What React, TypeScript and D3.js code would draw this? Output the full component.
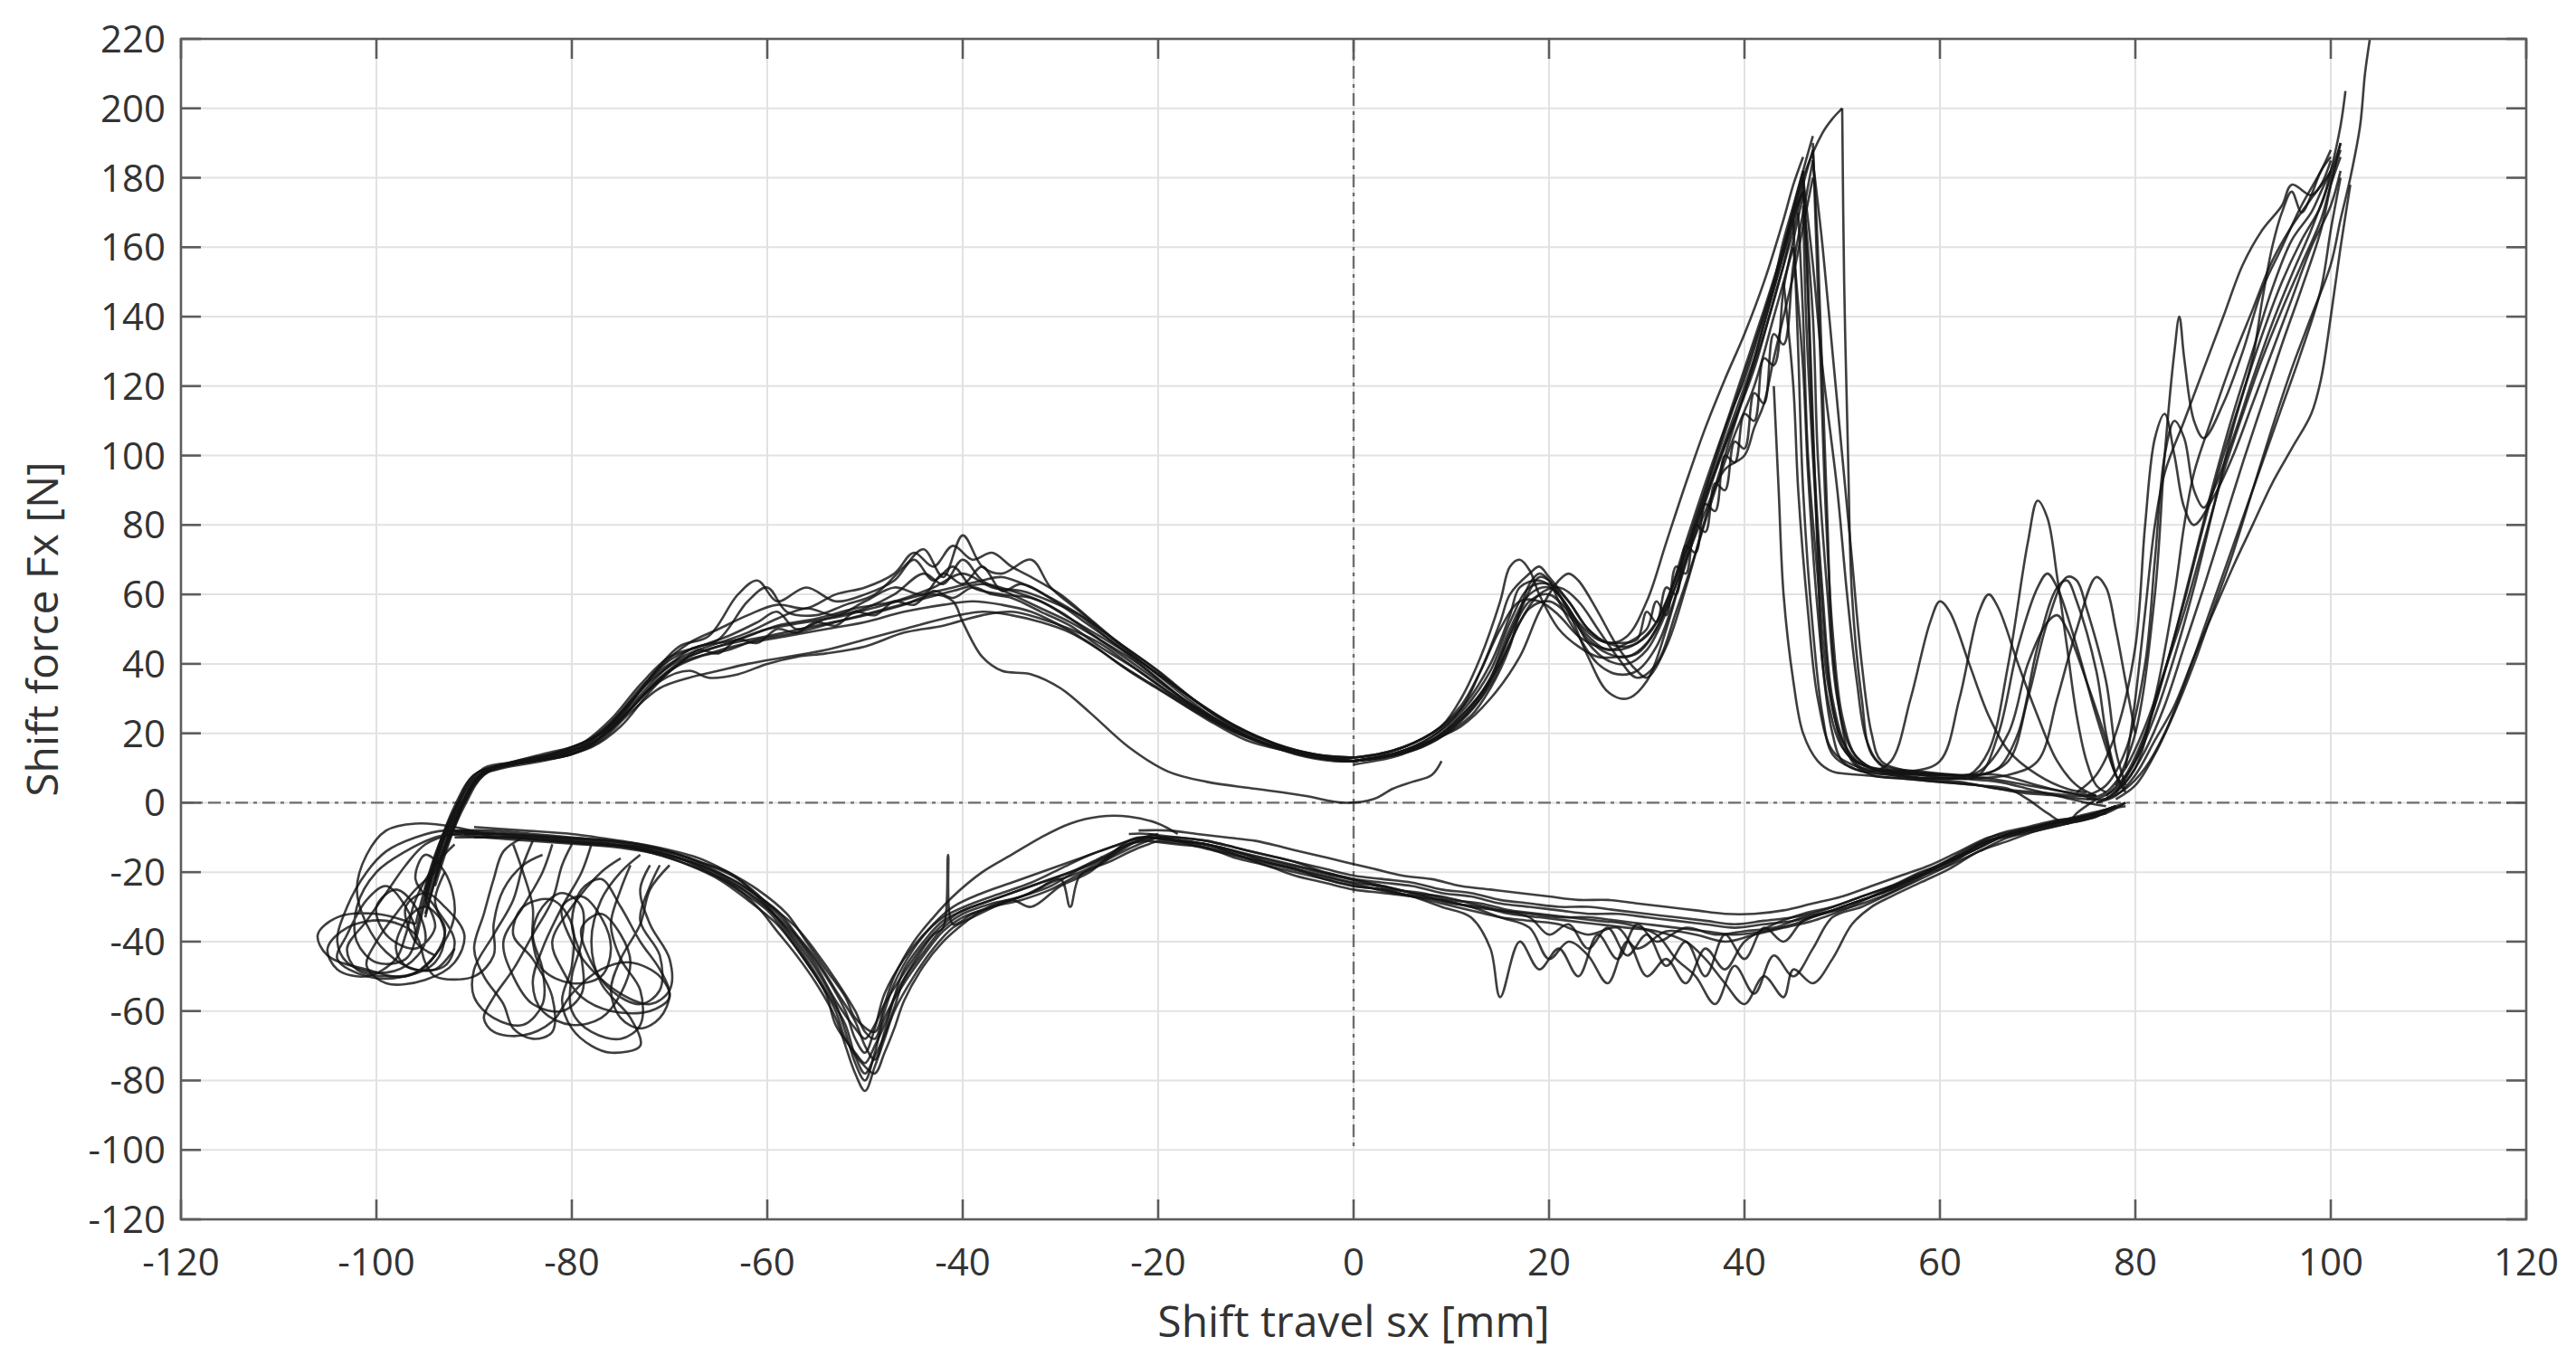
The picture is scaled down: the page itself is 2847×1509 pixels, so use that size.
import * as d3 from 'd3';
import { useEffect, useRef } from 'react';

type Pt = [number, number];

const xTickValues = [-120, -100, -80, -60, -40, -20, 0, 20, 40, 60, 80, 100, 120];
const yTickValues = [-120, -100, -80, -60, -40, -20, 0, 20, 40, 60, 80, 100, 120, 140, 160, 180, 200, 220];

const xLabel = 'Shift travel sx [mm]';
const yLabel = 'Shift force Fx [N]';

// forward stroke: left gate -> neutral (upper hump)
const riseA: Pt[] = [[-95, -30], [-93, -12], [-91, 0], [-89, 9], [-86, 11], [-82, 13], [-78, 16], [-75, 22], [-72, 32], [-69, 40], [-66, 43], [-62, 46], [-58, 48], [-54, 50], [-50, 52], [-46, 55], [-42, 57], [-39, 58], [-36, 57], [-33, 55], [-30, 51], [-27, 46], [-24, 40], [-20, 33], [-16, 26], [-12, 20], [-8, 16], [-4, 13], [0, 12]];
const riseB: Pt[] = [[-96, -35], [-94, -15], [-92, -2], [-90, 8], [-87, 11], [-83, 13], [-79, 17], [-76, 24], [-73, 34], [-70, 42], [-67, 45], [-64, 48], [-61, 52], [-59, 55], [-57, 50], [-54, 53], [-50, 56], [-47, 60], [-44, 66], [-42, 63], [-40, 70], [-38, 64], [-35, 60], [-32, 56], [-29, 52], [-26, 47], [-22, 40], [-18, 31], [-14, 24], [-10, 18], [-6, 15], [-2, 13], [0, 13]];
const riseC: Pt[] = [[-95, -25], [-93, -8], [-91, 3], [-89, 10], [-85, 12], [-81, 15], [-77, 20], [-74, 28], [-71, 37], [-68, 44], [-65, 47], [-62, 58], [-60, 62], [-58, 55], [-55, 54], [-52, 57], [-49, 60], [-46, 68], [-44, 73], [-42, 65], [-40, 77], [-38, 68], [-36, 66], [-33, 70], [-31, 62], [-28, 55], [-25, 48], [-21, 39], [-17, 30], [-13, 22], [-9, 17], [-5, 14], [-1, 12], [0, 12]];
const riseD: Pt[] = [[-94, -20], [-92, -5], [-90, 6], [-88, 10], [-84, 12], [-80, 14], [-77, 18], [-74, 26], [-71, 33], [-68, 36], [-65, 38], [-62, 40], [-58, 42], [-54, 44], [-50, 47], [-46, 50], [-42, 53], [-38, 55], [-35, 54], [-32, 52], [-29, 49], [-26, 44], [-23, 38], [-19, 31], [-15, 24], [-11, 18], [-7, 15], [-3, 13], [0, 13]];
const riseE: Pt[] = [[-95, -28], [-93, -10], [-91, 1], [-89, 9], [-85, 12], [-81, 14], [-78, 18], [-75, 26], [-72, 35], [-69, 41], [-65, 45], [-60, 48], [-55, 51], [-50, 54], [-46, 57], [-43, 60], [-41, 58], [-40, 52], [-38, 42], [-36, 38], [-33, 37], [-30, 33], [-27, 26], [-23, 16], [-19, 9], [-15, 6], [-10, 4], [-5, 2], [-1, 0], [2, 1], [4, 4], [6, 6], [8, 8], [9, 12]];
const riseF: Pt[] = [[-96, -40], [-94, -18], [-92, -3], [-90, 7], [-87, 10], [-83, 12], [-79, 15], [-76, 21], [-73, 30], [-70, 38], [-67, 42], [-64, 44], [-61, 47], [-57, 49], [-53, 52], [-49, 55], [-45, 58], [-41, 61], [-38, 63], [-35, 61], [-32, 58], [-29, 53], [-26, 48], [-22, 41], [-18, 33], [-14, 25], [-10, 19], [-6, 15], [-2, 13], [0, 12]];
const riseG: Pt[] = [[-94, -22], [-92, -6], [-90, 5], [-88, 10], [-84, 12], [-80, 14], [-77, 19], [-74, 27], [-71, 35], [-68, 38], [-66, 36], [-63, 37], [-60, 40], [-57, 42], [-54, 43], [-50, 45], [-46, 49], [-42, 51], [-38, 54], [-35, 55], [-32, 53], [-29, 50], [-26, 46], [-23, 40], [-19, 32], [-15, 25], [-11, 19], [-7, 15], [-3, 13], [0, 12]];
const riseH: Pt[] = [[-95, -32], [-93, -14], [-91, -1], [-89, 8], [-86, 11], [-82, 13], [-78, 17], [-75, 25], [-72, 36], [-69, 45], [-66, 48], [-63, 60], [-61, 64], [-59, 58], [-56, 62], [-53, 58], [-50, 60], [-47, 64], [-45, 70], [-43, 64], [-41, 68], [-39, 62], [-36, 60], [-33, 59], [-30, 55], [-27, 49], [-24, 43], [-20, 35], [-16, 27], [-12, 21], [-8, 16], [-4, 13], [0, 12]];
const riseI: Pt[] = [[-95, -26], [-93, -9], [-91, 2], [-89, 9], [-85, 12], [-81, 14], [-77, 19], [-74, 27], [-71, 36], [-68, 42], [-64, 46], [-60, 50], [-56, 52], [-52, 54], [-48, 57], [-44, 60], [-41, 62], [-38, 64], [-36, 65], [-33, 62], [-30, 57], [-27, 51], [-24, 45], [-20, 37], [-16, 29], [-12, 22], [-8, 17], [-4, 14], [0, 13]];
const riseJ: Pt[] = [[-96, -38], [-94, -16], [-92, -1], [-90, 8], [-87, 11], [-83, 14], [-79, 17], [-76, 23], [-73, 33], [-70, 41], [-67, 45], [-63, 47], [-59, 51], [-55, 53], [-51, 56], [-47, 58], [-43, 62], [-40, 66], [-37, 62], [-34, 61], [-31, 58], [-28, 54], [-25, 48], [-21, 40], [-17, 31], [-13, 23], [-9, 18], [-5, 14], [-1, 12], [0, 12]];
const riseK: Pt[] = [[-95, -33], [-93, -13], [-91, 0], [-89, 9], [-86, 11], [-82, 14], [-78, 17], [-75, 24], [-72, 33], [-69, 40], [-67, 44], [-65, 43], [-63, 47], [-61, 46], [-59, 50], [-57, 49], [-55, 52], [-53, 51], [-51, 55], [-49, 54], [-47, 58], [-45, 57], [-43, 61], [-41, 59], [-39, 62], [-37, 60], [-35, 59], [-32, 55], [-29, 51], [-26, 45], [-22, 38], [-18, 30], [-14, 23], [-10, 18], [-6, 14], [-2, 12], [0, 12]];
const riseL: Pt[] = [[-94, -24], [-92, -7], [-90, 6], [-88, 10], [-84, 13], [-80, 15], [-77, 20], [-74, 29], [-71, 38], [-68, 43], [-65, 46], [-62, 49], [-59, 53], [-56, 56], [-53, 54], [-50, 58], [-47, 62], [-44, 60], [-42, 66], [-40, 63], [-38, 68], [-36, 61], [-34, 63], [-31, 59], [-28, 54], [-25, 47], [-21, 38], [-17, 29], [-13, 22], [-9, 17], [-5, 14], [-1, 12], [0, 12]];
const riseM: Pt[] = [[-95, -27], [-93, -10], [-91, 1], [-89, 9], [-85, 12], [-81, 15], [-77, 20], [-74, 29], [-71, 39], [-68, 46], [-65, 50], [-62, 54], [-59, 57], [-56, 56], [-53, 60], [-50, 62], [-47, 66], [-45, 72], [-43, 68], [-41, 74], [-39, 70], [-37, 72], [-35, 68], [-33, 65], [-30, 60], [-27, 53], [-24, 46], [-20, 38], [-16, 29], [-12, 22], [-8, 17], [-4, 14], [0, 13]];

// forward stroke: neutral -> first gate peak
const midA: Pt[] = [[0, 12], [3, 13], [6, 15], [9, 19], [12, 25], [14, 33], [16, 45], [17, 55], [18, 63], [19, 66], [20, 64], [21, 58], [23, 48], [25, 40], [27, 37], [29, 38], [31, 45], [33, 60], [35, 78], [37, 95], [39, 110], [41, 125], [43, 145], [45, 165], [46, 178], [47, 188]];
const midB: Pt[] = [[0, 13], [3, 14], [6, 17], [9, 22], [11, 30], [13, 42], [15, 58], [16, 68], [17, 70], [18, 67], [19, 60], [21, 50], [23, 45], [25, 42], [27, 42], [29, 43], [31, 50], [33, 65], [35, 82], [37, 98], [39, 115], [41, 132], [43, 150], [44, 162], [45, 172], [46, 182]];
const midC: Pt[] = [[0, 12], [4, 14], [8, 18], [11, 22], [14, 30], [17, 42], [19, 55], [21, 64], [22, 66], [23, 64], [25, 55], [27, 45], [29, 38], [30, 36], [32, 45], [34, 62], [36, 82], [38, 100], [40, 118], [42, 135], [44, 155], [45, 168], [46, 180]];
const midD: Pt[] = [[0, 12], [3, 13], [7, 16], [10, 21], [13, 30], [15, 42], [17, 55], [19, 65], [20, 64], [22, 55], [24, 42], [26, 32], [28, 30], [30, 35], [32, 50], [34, 70], [36, 88], [38, 103], [40, 118], [42, 138], [44, 158], [45, 170], [46, 176]];
const midE: Pt[] = [[0, 12], [4, 14], [8, 19], [11, 27], [13, 38], [15, 52], [16, 60], [18, 66], [19, 68], [20, 65], [22, 58], [24, 50], [26, 46], [28, 45], [30, 48], [32, 58], [34, 75], [36, 92], [38, 108], [40, 122], [42, 140], [44, 160], [46, 182], [47, 192]];
const midF: Pt[] = [[0, 11], [5, 14], [9, 20], [12, 28], [15, 40], [17, 52], [19, 60], [21, 62], [23, 58], [25, 50], [27, 42], [29, 36], [31, 40], [33, 55], [35, 72], [37, 90], [39, 106], [41, 120], [43, 140], [44, 150], [45, 160]];
const midG: Pt[] = [[0, 12], [4, 14], [8, 18], [11, 24], [14, 36], [16, 50], [18, 60], [20, 62], [22, 56], [24, 46], [26, 41], [28, 40], [30, 44], [32, 55], [34, 72], [36, 90], [38, 108], [40, 125], [42, 142], [44, 160], [46, 180], [48, 193], [49, 197], [50, 200]];
const midH: Pt[] = [[0, 13], [4, 15], [8, 20], [11, 28], [13, 38], [15, 50], [17, 58], [19, 58], [21, 54], [23, 48], [25, 45], [27, 44], [29, 46], [31, 52], [33, 65], [35, 80], [37, 96], [39, 112], [41, 128], [43, 148], [45, 168], [46, 176]];
const midI: Pt[] = [[0, 12], [4, 14], [8, 18], [11, 25], [14, 35], [16, 48], [18, 58], [20, 60], [22, 55], [24, 48], [26, 44], [28, 46], [30, 50], [31, 58], [32, 54], [33, 68], [34, 66], [35, 80], [36, 78], [37, 92], [38, 90], [39, 104], [40, 102], [41, 118], [42, 115], [43, 135], [44, 132], [45, 155], [46, 170], [47, 185]];
const midJ: Pt[] = [[0, 13], [4, 15], [8, 20], [11, 27], [14, 40], [16, 54], [17, 62], [19, 64], [21, 60], [23, 52], [25, 47], [27, 46], [29, 47], [30, 55], [31, 52], [32, 62], [33, 60], [34, 74], [35, 72], [36, 86], [37, 84], [38, 100], [39, 98], [40, 112], [41, 110], [42, 128], [43, 126], [44, 148], [45, 162], [46, 175]];
const midK: Pt[] = [[0, 12], [4, 14], [8, 18], [11, 24], [14, 34], [16, 46], [18, 56], [20, 58], [22, 54], [24, 47], [26, 43], [28, 42], [30, 46], [32, 56], [34, 70], [36, 84], [38, 96], [40, 100], [41, 108], [42, 115], [43, 128], [44, 140], [45, 152], [46, 166], [47, 180]];
const midL: Pt[] = [[0, 12], [4, 14], [8, 19], [11, 26], [14, 38], [16, 52], [18, 62], [20, 63], [22, 58], [24, 50], [26, 46], [28, 48], [30, 58], [32, 75], [34, 92], [36, 108], [38, 122], [40, 135], [42, 150], [44, 168], [45, 178], [46, 186]];

// forward stroke: drop after the first gate, low plateau with bumps
const dropA: Pt[] = [[47, 188], [47.5, 160], [48, 120], [48.5, 80], [49, 45], [50, 22], [51, 12], [53, 8], [56, 7], [60, 6], [64, 5], [68, 3], [72, 2], [75, 1], [77, 1]];
const dropB: Pt[] = [[46, 182], [46.5, 150], [47, 110], [47.5, 70], [48, 40], [49, 20], [50, 12], [52, 9], [55, 8], [58, 7], [62, 6], [66, 4], [70, 3], [74, 2], [76, 2]];
const dropC: Pt[] = [[45, 168], [45.5, 130], [46, 90], [47, 50], [48, 25], [49, 14], [51, 10], [53, 9], [55, 12], [57, 30], [59, 52], [60, 58], [61, 55], [63, 40], [65, 25], [67, 15], [70, 8], [73, 4], [75, 3]];
const dropD: Pt[] = [[46, 176], [47, 140], [47.5, 100], [48.5, 60], [49.5, 30], [51, 15], [53, 10], [56, 8], [60, 7], [63, 8], [65, 15], [67, 40], [69, 75], [70, 87], [71, 82], [72, 65], [73, 45], [74, 25], [75, 12], [76, 5], [77, 3]];
const dropE: Pt[] = [[50, 200], [50.2, 150], [50.6, 100], [51, 60], [52, 30], [53, 14], [55, 9], [58, 8], [61, 7], [64, 8], [66, 20], [68, 45], [70, 62], [71, 66], [72, 62], [74, 45], [76, 25], [78, 8], [79, 3]];
const dropF: Pt[] = [[44, 150], [45, 120], [45.5, 90], [46.5, 55], [47.5, 30], [49, 15], [51, 11], [54, 9], [57, 9], [60, 12], [62, 30], [64, 55], [65, 60], [66, 56], [68, 40], [70, 25], [72, 12], [74, 5], [76, 2]];
const dropG: Pt[] = [[45, 160], [46, 125], [46.5, 95], [47.5, 55], [48.5, 30], [50, 16], [52, 11], [56, 9], [60, 8], [64, 8], [67, 12], [69, 30], [71, 52], [73, 65], [74, 64], [75, 56], [77, 35], [78, 15], [79, 5]];
const dropH: Pt[] = [[43, 120], [43.5, 90], [44, 60], [45, 35], [46, 20], [47.5, 12], [49, 9], [52, 8], [56, 7], [60, 6], [64, 5], [67, 4], [69, 1], [71, -3], [73, -6], [74, -3], [76, 1]];
const dropI: Pt[] = [[46, 178], [46.5, 145], [47, 105], [48, 60], [49, 30], [50.5, 15], [52, 10], [55, 8], [59, 7], [63, 7], [67, 8], [70, 12], [72, 30], [74, 50], [76, 65], [77, 62], [78, 50], [79, 35], [80, 20]];
const dropJ: Pt[] = [[45.5, 170], [46, 140], [46.5, 100], [47.5, 65], [48.5, 35], [50, 18], [52, 11], [55, 9], [60, 8], [64, 9], [67, 20], [69, 40], [71, 52], [72, 54], [73, 50], [75, 35], [77, 18], [78, 8], [79, 4]];
const dropK: Pt[] = [[47, 190], [47.3, 165], [47.8, 125], [48.3, 85], [49, 50], [50, 25], [51.5, 13], [54, 9], [58, 8], [62, 7], [66, 6], [69, 4], [72, 2], [75, 0], [77, -1]];
const dropL: Pt[] = [[46, 172], [46.3, 140], [47, 100], [48, 55], [49, 28], [50.5, 14], [53, 10], [57, 9], [61, 8], [64, 8], [66, 10], [68, 20], [70, 45], [72, 62], [73, 64], [74, 58], [76, 38], [77, 20], [78, 8]];
const dropM: Pt[] = [[47, 185], [48, 160], [49, 130], [50, 100], [51, 70], [52, 40], [53, 20], [54, 12], [57, 9], [61, 8], [65, 7], [69, 5], [73, 3], [76, 1]];
const dropN: Pt[] = [[46, 180], [47, 155], [48, 125], [49.5, 90], [50.5, 60], [51.5, 35], [52.5, 18], [54, 11], [58, 9], [62, 8], [66, 8], [70, 5], [73, 3], [76, 2]];

// forward stroke: second gate climb
const climbA: Pt[] = [[76, 0], [78, 2], [80, 8], [82, 18], [84, 28], [86, 42], [88, 55], [90, 68], [92, 80], [94, 92], [96, 102], [98, 112], [99, 122], [100, 140], [101, 160], [102, 178]];
const climbB: Pt[] = [[77, 1], [79, 6], [81, 15], [83, 28], [85, 45], [87, 62], [89, 80], [91, 98], [93, 115], [95, 132], [97, 148], [99, 165], [100, 178], [101, 190]];
const climbC: Pt[] = [[75, 2], [77, 5], [79, 15], [81, 40], [82, 70], [83, 100], [84, 110], [85, 105], [86, 90], [87, 85], [88, 90], [90, 105], [92, 122], [94, 138], [96, 152], [98, 165], [100, 180], [101, 188]];
const climbD: Pt[] = [[74, 3], [76, 8], [78, 20], [80, 45], [81, 80], [82, 105], [83, 112], [84, 100], [85, 85], [86, 80], [88, 88], [90, 100], [92, 115], [94, 130], [96, 145], [98, 160], [100, 172], [101, 182]];
const climbE: Pt[] = [[78, 5], [80, 20], [82, 60], [83, 100], [84, 130], [84.5, 140], [85, 128], [86, 110], [87, 105], [89, 115], [91, 130], [93, 148], [95, 160], [97, 172], [99, 182], [100, 188]];
const climbF: Pt[] = [[77, 2], [79, 8], [81, 20], [83, 38], [85, 58], [87, 80], [89, 100], [91, 118], [93, 135], [95, 150], [97, 162], [99, 172], [100, 182], [101, 195], [101.5, 205]];
const climbG: Pt[] = [[78, 1], [80, 5], [82, 14], [84, 26], [86, 40], [88, 56], [90, 72], [92, 90], [94, 108], [96, 125], [98, 140], [100, 155], [101, 168], [102, 180], [103, 195], [103.5, 210], [104, 220]];
const climbH: Pt[] = [[76, 1], [78, 4], [80, 12], [82, 25], [84, 42], [86, 62], [88, 85], [90, 108], [92, 128], [93, 145], [94, 160], [95, 170], [96, 176], [97, 170], [98, 175], [99, 182], [100, 186]];
const climbI: Pt[] = [[79, 10], [80, 30], [81, 55], [82, 80], [83, 95], [85, 110], [87, 125], [89, 140], [91, 155], [93, 165], [95, 172], [96, 178], [98, 175], [99, 178], [100, 185]];
const climbJ: Pt[] = [[75, 1], [77, 3], [79, 10], [81, 22], [83, 38], [85, 55], [87, 75], [89, 95], [91, 112], [93, 128], [95, 142], [97, 155], [99, 168], [100, 178], [101, 186]];
const climbK: Pt[] = [[78, 3], [80, 12], [82, 28], [84, 48], [86, 70], [88, 92], [90, 112], [92, 130], [94, 148], [96, 162], [98, 170], [99, 176], [100, 182]];
const climbL: Pt[] = [[76, 0], [78, 3], [80, 10], [82, 30], [84, 60], [85, 80], [86, 95], [88, 112], [90, 128], [92, 142], [94, 156], [96, 166], [98, 174], [100, 182], [101, 190]];
const climbM: Pt[] = [[77, 1], [79, 4], [81, 10], [83, 20], [85, 34], [87, 50], [89, 66], [91, 82], [93, 98], [95, 114], [97, 130], [99, 148], [100, 165], [101, 180]];

// return stroke: second gate -> neutral
const backA: Pt[] = [[79, 0], [77, -3], [75, -4], [72, -6], [69, -8], [66, -10], [64, -12], [62, -16], [60, -19], [57, -22], [54, -26], [51, -29], [48, -32], [45, -34], [42, -35], [39, -36], [36, -35], [33, -34], [30, -33], [27, -32], [24, -32], [21, -31], [18, -30], [15, -29], [12, -27], [9, -26], [6, -24], [3, -23], [0, -22], [-3, -20], [-6, -18], [-9, -16], [-12, -14], [-15, -12], [-18, -11], [-21, -10]];
const backB: Pt[] = [[78, -1], [76, -3], [73, -5], [70, -7], [67, -9], [64, -13], [61, -17], [58, -21], [55, -25], [52, -28], [49, -31], [46, -33], [43, -36], [40, -37], [37, -38], [34, -36], [31, -40], [29, -35], [27, -45], [25, -38], [23, -50], [21, -42], [19, -48], [17, -40], [15, -56], [14, -42], [12, -33], [9, -30], [6, -27], [3, -25], [0, -24], [-3, -22], [-6, -20], [-9, -18], [-12, -15], [-15, -13], [-18, -11], [-21, -10]];
const backC: Pt[] = [[78, -1], [76, -4], [73, -6], [70, -8], [67, -10], [64, -14], [61, -18], [58, -22], [55, -26], [52, -30], [49, -33], [47, -42], [45, -50], [43, -44], [41, -55], [39, -47], [37, -58], [35, -50], [33, -45], [31, -38], [28, -35], [25, -34], [22, -33], [19, -32], [16, -31], [13, -29], [10, -28], [7, -26], [4, -25], [1, -23], [-2, -21], [-5, -19], [-8, -17], [-11, -15], [-14, -13], [-17, -11], [-20, -10]];
const backD: Pt[] = [[77, -2], [75, -4], [72, -5], [69, -7], [66, -9], [63, -13], [60, -18], [57, -23], [54, -27], [51, -30], [48, -32], [45, -35], [42, -37], [39, -38], [36, -37], [33, -36], [30, -35], [27, -34], [24, -33], [21, -33], [18, -32], [15, -31], [12, -30], [9, -28], [6, -27], [3, -25], [0, -24], [-3, -22], [-6, -19], [-9, -17], [-12, -14], [-15, -12], [-18, -11], [-21, -9], [-23, -9]];
const backE: Pt[] = [[78, -1], [76, -3], [73, -5], [70, -7], [67, -9], [64, -12], [61, -17], [58, -20], [55, -24], [52, -27], [49, -30], [46, -32], [43, -35], [40, -40], [38, -48], [36, -42], [34, -52], [32, -45], [30, -50], [28, -40], [26, -52], [24, -44], [22, -40], [20, -45], [18, -36], [15, -33], [12, -30], [9, -28], [6, -26], [3, -24], [0, -22], [-3, -20], [-6, -17], [-9, -15], [-12, -13], [-15, -11], [-18, -10], [-21, -9]];
const backF: Pt[] = [[79, -1], [77, -2], [74, -4], [71, -6], [68, -8], [65, -10], [62, -14], [59, -18], [56, -21], [53, -24], [50, -27], [47, -29], [44, -31], [41, -32], [38, -32], [35, -31], [32, -30], [29, -29], [26, -28], [23, -28], [20, -27], [17, -26], [14, -25], [11, -24], [8, -22], [5, -21], [2, -19], [-1, -17], [-4, -15], [-7, -13], [-10, -11], [-13, -10], [-16, -9], [-19, -8], [-22, -8]];
const backG: Pt[] = [[78, -1], [76, -4], [73, -6], [70, -8], [67, -11], [64, -14], [61, -19], [58, -23], [55, -27], [53, -30], [51, -35], [49, -45], [47, -52], [45, -48], [44, -56], [42, -50], [40, -58], [38, -52], [36, -45], [34, -40], [31, -37], [28, -36], [25, -35], [22, -34], [19, -33], [16, -32], [13, -30], [10, -29], [7, -27], [4, -26], [1, -24], [-2, -22], [-5, -20], [-8, -18], [-11, -16], [-14, -14], [-17, -12], [-20, -11]];
const backH: Pt[] = [[77, -3], [74, -5], [71, -6], [68, -9], [65, -11], [62, -15], [59, -19], [56, -23], [53, -27], [50, -31], [47, -34], [44, -36], [41, -38], [38, -40], [35, -38], [32, -37], [29, -42], [27, -36], [24, -38], [21, -35], [18, -34], [15, -33], [12, -31], [9, -29], [6, -27], [3, -26], [0, -25], [-3, -23], [-6, -21], [-9, -18], [-12, -16], [-15, -13], [-18, -12], [-21, -11]];
const backI: Pt[] = [[79, 0], [77, -2], [75, -4], [72, -6], [69, -8], [66, -10], [63, -14], [60, -18], [57, -22], [54, -25], [51, -28], [48, -31], [45, -33], [42, -34], [39, -35], [36, -34], [33, -33], [30, -32], [27, -31], [24, -30], [21, -30], [18, -29], [15, -28], [12, -26], [9, -25], [6, -23], [3, -22], [0, -21], [-3, -19], [-6, -17], [-9, -15], [-12, -13], [-15, -11], [-18, -10], [-21, -10]];
const backJ: Pt[] = [[78, -1], [76, -3], [73, -5], [70, -7], [67, -9], [64, -13], [61, -17], [58, -21], [55, -25], [52, -28], [49, -31], [46, -34], [44, -40], [42, -36], [40, -45], [38, -38], [36, -50], [34, -40], [32, -47], [30, -38], [28, -44], [26, -36], [24, -42], [22, -35], [20, -38], [18, -33], [15, -31], [12, -29], [9, -27], [6, -26], [3, -24], [0, -23], [-3, -21], [-6, -19], [-9, -17], [-12, -15], [-15, -12], [-18, -11], [-21, -10]];

// return stroke: neutral -> left gate, through the dip near -50
const leftA: Pt[] = [[-20, -10], [-22, -10], [-24, -12], [-27, -15], [-30, -19], [-33, -23], [-36, -26], [-39, -29], [-42, -33], [-44, -38], [-46, -45], [-48, -55], [-49, -65], [-50, -72], [-51, -68], [-52, -60], [-54, -50], [-56, -42], [-58, -35], [-60, -29], [-62, -24], [-64, -20], [-67, -17], [-70, -14], [-73, -12], [-76, -11], [-80, -10], [-84, -9], [-88, -8], [-92, -8]];
const leftB: Pt[] = [[-21, -11], [-23, -12], [-26, -18], [-29, -22], [-31, -25], [-34, -28], [-37, -30], [-40, -33], [-42, -37], [-44, -44], [-46, -52], [-48, -62], [-49, -72], [-50, -80], [-51, -75], [-52, -66], [-53, -58], [-55, -48], [-57, -40], [-59, -33], [-61, -27], [-63, -22], [-66, -18], [-69, -15], [-72, -13], [-76, -12], [-80, -11], [-84, -10], [-88, -9], [-92, -9]];
const leftC: Pt[] = [[-18, -9], [-20, -6], [-23, -4], [-26, -4], [-29, -6], [-32, -10], [-35, -15], [-38, -20], [-41, -27], [-43, -33], [-45, -40], [-47, -50], [-48, -58], [-49, -66], [-51, -62], [-52, -56], [-54, -48], [-56, -40], [-58, -32], [-61, -25], [-64, -20], [-67, -16], [-71, -13], [-75, -11], [-80, -9], [-85, -8], [-90, -7]];
const leftD: Pt[] = [[-20, -11], [-22, -13], [-25, -17], [-28, -21], [-29, -30], [-30, -22], [-33, -26], [-36, -29], [-39, -33], [-41, -36], [-43, -42], [-45, -50], [-47, -60], [-48, -68], [-49, -76], [-50, -83], [-51, -78], [-52, -70], [-53, -62], [-55, -52], [-57, -44], [-59, -37], [-61, -30], [-64, -23], [-67, -19], [-70, -16], [-74, -13], [-78, -12], [-82, -11], [-86, -10], [-90, -10]];
const leftE: Pt[] = [[-21, -10], [-23, -11], [-25, -15], [-28, -19], [-31, -24], [-34, -27], [-37, -30], [-39, -32], [-41, -35], [-41.5, -15], [-42, -36], [-43, -38], [-45, -46], [-47, -56], [-48, -64], [-49, -70], [-50, -75], [-51, -72], [-53, -64], [-54, -55], [-56, -46], [-58, -38], [-60, -31], [-63, -25], [-66, -20], [-69, -16], [-73, -13], [-77, -12], [-82, -11], [-87, -10], [-92, -10]];
const leftF: Pt[] = [[-19, -10], [-22, -11], [-24, -14], [-27, -18], [-30, -21], [-33, -24], [-36, -27], [-39, -30], [-42, -34], [-44, -40], [-46, -48], [-47, -56], [-48, -66], [-49, -74], [-50, -70], [-51, -63], [-53, -54], [-55, -45], [-57, -38], [-59, -31], [-62, -25], [-65, -20], [-68, -16], [-72, -13], [-76, -11], [-81, -10], [-86, -9], [-91, -8]];
const leftG: Pt[] = [[-22, -11], [-24, -13], [-27, -20], [-30, -24], [-33, -30], [-35, -28], [-38, -31], [-40, -35], [-42, -40], [-44, -47], [-46, -57], [-47, -65], [-48, -72], [-49, -78], [-50, -76], [-52, -68], [-53, -60], [-55, -50], [-57, -42], [-59, -35], [-62, -28], [-65, -22], [-68, -18], [-71, -15], [-75, -13], [-79, -12], [-84, -11], [-89, -10], [-93, -9]];
const leftH: Pt[] = [[-20, -9], [-23, -11], [-26, -14], [-29, -17], [-32, -20], [-35, -23], [-38, -26], [-41, -30], [-43, -35], [-45, -42], [-47, -52], [-48, -60], [-49, -68], [-50, -66], [-51, -60], [-53, -51], [-55, -43], [-57, -36], [-60, -29], [-63, -23], [-66, -19], [-69, -16], [-73, -13], [-77, -11], [-82, -10], [-87, -9], [-91, -9]];
const leftI: Pt[] = [[-21, -10], [-23, -12], [-26, -16], [-29, -20], [-32, -23], [-35, -26], [-38, -29], [-40, -31], [-42, -35], [-44, -41], [-46, -49], [-48, -58], [-49, -64], [-50, -68], [-51, -65], [-53, -57], [-55, -47], [-57, -39], [-59, -33], [-62, -26], [-65, -21], [-68, -17], [-72, -14], [-76, -12], [-81, -11], [-86, -10], [-91, -9]];
const leftJ: Pt[] = [[-20, -10], [-22, -12], [-25, -16], [-28, -20], [-31, -23], [-34, -27], [-37, -29], [-40, -32], [-42, -36], [-44, -43], [-46, -51], [-47, -59], [-48, -67], [-49, -73], [-50, -78], [-51, -73], [-52, -64], [-54, -54], [-56, -45], [-58, -37], [-60, -30], [-63, -24], [-66, -19], [-70, -15], [-74, -13], [-78, -11], [-83, -10], [-88, -9], [-93, -8]];

// oscillation at the left end stop
const knotA: Pt[] = [[-90, -9], [-93, -8], [-96, -10], [-99, -14], [-101, -20], [-103, -30], [-104, -40], [-103, -46], [-100, -49], [-97, -47], [-95, -40], [-96, -30], [-98, -25], [-100, -30], [-99, -38], [-96, -42], [-94, -36], [-95, -28]];
const knotB: Pt[] = [[-88, -10], [-92, -7], [-96, -6], [-99, -8], [-101, -15], [-102, -25], [-101, -35], [-99, -43], [-96, -48], [-93, -47], [-92, -40], [-94, -30], [-96, -22], [-95, -15], [-93, -20], [-92, -32], [-94, -44], [-97, -50], [-101, -48], [-105, -44], [-106, -38], [-104, -33], [-100, -32], [-96, -35]];
const knotC: Pt[] = [[-85, -10], [-87, -14], [-88, -22], [-89, -32], [-90, -42], [-89, -50], [-87, -58], [-86, -65], [-84, -68], [-82, -66], [-82, -56], [-84, -45], [-86, -38], [-85, -30], [-82, -28], [-80, -35], [-80, -47], [-81, -57], [-80, -65], [-78, -70], [-76, -72], [-73, -70], [-74, -62], [-77, -52], [-78, -40], [-77, -28], [-75, -20], [-73, -15]];
const knotD: Pt[] = [[-82, -12], [-83, -20], [-85, -30], [-87, -40], [-86, -50], [-84, -58], [-81, -60], [-79, -55], [-79, -45], [-80, -35], [-79, -25], [-77, -22], [-75, -30], [-73, -40], [-71, -48], [-70, -55], [-71, -62], [-73, -65], [-75, -62], [-76, -54], [-75, -45], [-73, -35], [-72, -25], [-70, -18]];
const knotE: Pt[] = [[-92, -12], [-94, -18], [-96, -28], [-97, -38], [-98, -45], [-101, -50], [-104, -48], [-105, -42], [-103, -36], [-99, -34], [-96, -38], [-95, -46], [-94, -50], [-90, -50], [-88, -44], [-88, -35], [-87, -25], [-85, -18], [-83, -15]];
const knotF: Pt[] = [[-80, -12], [-81, -18], [-82, -28], [-84, -38], [-86, -48], [-88, -56], [-89, -62], [-88, -66], [-85, -67], [-82, -63], [-80, -55], [-77, -48], [-74, -46], [-71, -50], [-70, -56], [-72, -60], [-76, -60], [-79, -56], [-81, -48], [-82, -40], [-80, -30], [-77, -20], [-75, -16]];
const knotG: Pt[] = [[-94, -20], [-96, -25], [-98, -32], [-100, -40], [-101, -47], [-99, -52], [-95, -51], [-92, -46], [-91, -38], [-93, -30], [-95, -26], [-97, -30], [-96, -40], [-94, -44]];
const knotH: Pt[] = [[-86, -12], [-85, -20], [-84, -30], [-84, -40], [-83, -48], [-80, -52], [-77, -50], [-76, -42], [-77, -33], [-79, -27], [-81, -30], [-80, -40], [-78, -48], [-75, -55], [-72, -58], [-70, -54], [-70, -45], [-72, -35], [-73, -25], [-72, -18]];
const knotI: Pt[] = [[-89, -9], [-92, -9], [-95, -12], [-97, -18], [-99, -26], [-101, -34], [-103, -42], [-102, -48], [-99, -50], [-96, -49], [-94, -44], [-93, -36], [-95, -30], [-97, -34], [-98, -42], [-97, -47], [-94, -48], [-92, -42]];
const knotJ: Pt[] = [[-78, -12], [-79, -20], [-81, -30], [-83, -42], [-84, -52], [-83, -60], [-80, -64], [-77, -62], [-75, -55], [-74, -46], [-75, -38], [-77, -32], [-79, -36], [-78, -46], [-76, -54], [-73, -58], [-71, -54], [-71, -44], [-73, -34], [-72, -24], [-71, -18]];
const knotK: Pt[] = [[-91, -8], [-94, -10], [-97, -14], [-100, -20], [-102, -30], [-102, -40], [-100, -46], [-97, -45], [-96, -38], [-97, -30], [-99, -24], [-101, -28], [-103, -38], [-104, -45], [-101, -50], [-97, -50], [-94, -46], [-93, -38], [-94, -28], [-93, -20]];
const knotL: Pt[] = [[-84, -11], [-85, -18], [-86, -28], [-88, -38], [-90, -48], [-90, -56], [-88, -62], [-85, -64], [-83, -58], [-83, -48], [-84, -38], [-83, -30], [-81, -26], [-79, -30], [-79, -40], [-80, -50], [-80, -60], [-78, -66], [-75, -68], [-73, -64], [-73, -54], [-75, -45], [-76, -35], [-75, -25], [-74, -18]];

const traces: Pt[][] = [
  riseA, riseB, riseC, riseD, riseE, riseF, riseG, riseH, riseI, riseJ, riseK, riseL, riseM,
  midA, midB, midC, midD, midE, midF, midG, midH, midI, midJ, midK, midL,
  dropA, dropB, dropC, dropD, dropE, dropF, dropG, dropH, dropI, dropJ, dropK, dropL, dropM, dropN,
  climbA, climbB, climbC, climbD, climbE, climbF, climbG, climbH, climbI, climbJ, climbK, climbL, climbM,
  backA, backB, backC, backD, backE, backF, backG, backH, backI, backJ,
  leftA, leftB, leftC, leftD, leftE, leftF, leftG, leftH, leftI, leftJ,
  knotA, knotB, knotC, knotD, knotE, knotF, knotG, knotH, knotI, knotJ, knotK, knotL,
];

export default function App() {
  const svgRef = useRef<SVGSVGElement | null>(null);

  useEffect(() => {
    if (!svgRef.current) return;
    document.body.style.margin = '0';

    const width = 2847;
    const height = 1509;
    const margin = { top: 43, right: 55, bottom: 161, left: 200 };
    const font = '"Open Sans", "Noto Sans", sans-serif';

    const svg = d3.select(svgRef.current);
    svg.selectAll('*').remove();

    const x = d3.scaleLinear().domain([-120, 120]).range([margin.left, width - margin.right]);
    const y = d3.scaleLinear().domain([-120, 220]).range([height - margin.bottom, margin.top]);
    const [x0, x1] = x.range();
    const [y0, y1] = [y(220), y(-120)];

    svg.append('rect').attr('width', width).attr('height', height).attr('fill', '#ffffff');

    svg.append('defs').append('clipPath').attr('id', 'plot-clip')
      .append('rect').attr('x', x0).attr('y', y0).attr('width', x1 - x0).attr('height', y1 - y0);

    // grid
    const grid = svg.append('g').attr('stroke', '#e2e2e2').attr('stroke-width', 2);
    grid.selectAll('.gx').data(xTickValues).enter().append('line')
      .attr('x1', (d) => x(d)).attr('x2', (d) => x(d)).attr('y1', y0).attr('y2', y1);
    grid.selectAll('.gy').data(yTickValues).enter().append('line')
      .attr('y1', (d) => y(d)).attr('y2', (d) => y(d)).attr('x1', x0).attr('x2', x1);

    // zero reference lines
    const ref = svg.append('g').attr('stroke', '#6e6e6e').attr('stroke-width', 2.4)
      .attr('stroke-dasharray', '14 6 4 6').attr('fill', 'none');
    ref.append('line').attr('x1', x0).attr('x2', x1).attr('y1', y(0)).attr('y2', y(0));
    ref.append('line').attr('x1', x(0)).attr('x2', x(0)).attr('y1', y(220)).attr('y2', y(-100));

    // measured traces
    const line = d3.line<Pt>()
      .x((d) => x(d[0]))
      .y((d) => y(d[1]))
      .curve(d3.curveCatmullRom.alpha(0.5));

    svg.append('g').attr('clip-path', 'url(#plot-clip)')
      .selectAll('path').data(traces).enter().append('path')
      .attr('d', (d) => line(d) ?? '')
      .attr('fill', 'none')
      .attr('stroke', '#141414')
      .attr('stroke-opacity', 0.82)
      .attr('stroke-width', 2.6)
      .attr('stroke-linejoin', 'round');

    // axes box with inward ticks
    const axisColor = '#5c5c5c';
    const tickLen = 22;
    const box = svg.append('g').attr('stroke', axisColor).attr('stroke-width', 2.6).attr('fill', 'none');
    box.append('rect').attr('x', x0).attr('y', y0).attr('width', x1 - x0).attr('height', y1 - y0);
    xTickValues.forEach((v) => {
      box.append('line').attr('x1', x(v)).attr('x2', x(v)).attr('y1', y1).attr('y2', y1 - tickLen);
      box.append('line').attr('x1', x(v)).attr('x2', x(v)).attr('y1', y0).attr('y2', y0 + tickLen);
    });
    yTickValues.forEach((v) => {
      box.append('line').attr('y1', y(v)).attr('y2', y(v)).attr('x1', x0).attr('x2', x0 + tickLen);
      box.append('line').attr('y1', y(v)).attr('y2', y(v)).attr('x1', x1).attr('x2', x1 - tickLen);
    });

    // tick labels
    svg.append('g').selectAll('text').data(xTickValues).enter().append('text')
      .attr('x', (d) => x(d)).attr('y', y1 + 62)
      .attr('text-anchor', 'middle')
      .attr('font-family', font).attr('font-size', 42).attr('fill', '#333333')
      .text((d) => String(d));

    svg.append('g').selectAll('text').data(yTickValues).enter().append('text')
      .attr('x', x0 - 17).attr('y', (d) => y(d) + 15)
      .attr('text-anchor', 'end')
      .attr('font-family', font).attr('font-size', 42).attr('fill', '#333333')
      .text((d) => String(d));

    // axis titles
    svg.append('text')
      .attr('x', (x0 + x1) / 2).attr('y', 1478)
      .attr('text-anchor', 'middle')
      .attr('font-family', font).attr('font-size', 48).attr('fill', '#333333')
      .text(xLabel);

    svg.append('text')
      .attr('transform', `translate(64,${(y0 + y1) / 2}) rotate(-90)`)
      .attr('text-anchor', 'middle')
      .attr('font-family', font).attr('font-size', 48).attr('fill', '#333333')
      .text(yLabel);
  }, []);

  return <svg ref={svgRef} width={2847} height={1509} style={{ display: 'block' }}></svg>;
}
